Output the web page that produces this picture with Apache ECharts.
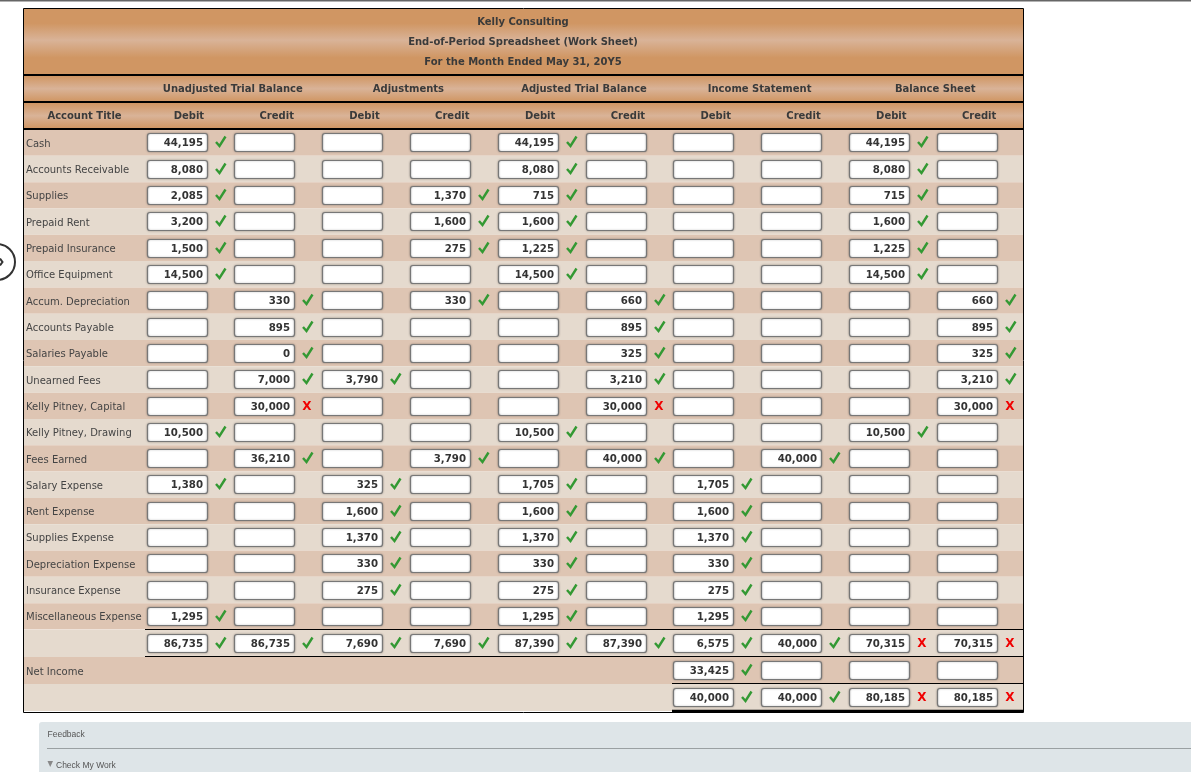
<!DOCTYPE html>
<html>
<head>
<meta charset="utf-8">
<title>Work Sheet</title>
<script src="https://cdn.jsdelivr.net/npm/echarts@6/dist/echarts.min.js"></script>
<style>
  html, body { margin: 0; padding: 0; background: #fff; }
  #chart { width: 1191px; height: 772px; }
</style>
</head>
<body>
<div id="chart"></div>
<script>
const titleLines = ['Kelly Consulting', 'End-of-Period Spreadsheet (Work Sheet)', 'For the Month Ended May 31, 20Y5'];
const groups = ['Unadjusted Trial Balance', 'Adjustments', 'Adjusted Trial Balance', 'Income Statement', 'Balance Sheet'];
const columns = ['Debit', 'Credit', 'Debit', 'Credit', 'Debit', 'Credit', 'Debit', 'Credit', 'Debit', 'Credit'];
const accounts = ['Cash', 'Accounts Receivable', 'Supplies', 'Prepaid Rent', 'Prepaid Insurance', 'Office Equipment',
  'Accum. Depreciation', 'Accounts Payable', 'Salaries Payable', 'Unearned Fees', 'Kelly Pitney, Capital',
  'Kelly Pitney, Drawing', 'Fees Earned', 'Salary Expense', 'Rent Expense', 'Supplies Expense',
  'Depreciation Expense', 'Insurance Expense', 'Miscellaneous Expense'];
const footerRows = ['', 'Net Income', ''];

// null = empty input box. Last two entries of each: Net Income row and final total row, x = no box at all
const x = undefined;
const utbDebit  = [44195, 8080, 2085, 3200, 1500, 14500, null, null, null, null, null, 10500, null, 1380, null, null, null, null, 1295, 86735, x, x];
const utbCredit = [null, null, null, null, null, null, 330, 895, 0, 7000, 30000, null, 36210, null, null, null, null, null, null, 86735, x, x];
const adjDebit  = [null, null, null, null, null, null, null, null, null, 3790, null, null, null, 325, 1600, 1370, 330, 275, null, 7690, x, x];
const adjCredit = [null, null, 1370, 1600, 275, null, 330, null, null, null, null, null, 3790, null, null, null, null, null, null, 7690, x, x];
const atbDebit  = [44195, 8080, 715, 1600, 1225, 14500, null, null, null, null, null, 10500, null, 1705, 1600, 1370, 330, 275, 1295, 87390, x, x];
const atbCredit = [null, null, null, null, null, null, 660, 895, 325, 3210, 30000, null, 40000, null, null, null, null, null, null, 87390, x, x];
const isDebit   = [null, null, null, null, null, null, null, null, null, null, null, null, null, 1705, 1600, 1370, 330, 275, 1295, 6575, 33425, 40000];
const isCredit  = [null, null, null, null, null, null, null, null, null, null, null, null, 40000, null, null, null, null, null, null, 40000, null, 40000];
const bsDebit   = [44195, 8080, 715, 1600, 1225, 14500, null, null, null, null, null, 10500, null, null, null, null, null, null, null, 70315, null, 80185];
const bsCredit  = [null, null, null, null, null, null, 660, 895, 325, 3210, 30000, null, null, null, null, null, null, null, null, 70315, null, 80185];
const allColumns = [utbDebit, utbCredit, adjDebit, adjCredit, atbDebit, atbCredit, isDebit, isCredit, bsDebit, bsCredit];

// [row, column] of the answers marked wrong
const wrongCells = [[10, 1], [10, 5], [10, 9], [19, 8], [19, 9], [21, 8], [21, 9]];

const FONT = '"DejaVu Sans", Verdana, sans-serif';
const TEXT = '#3a3a3a';
const ORANGE = '#d09663';
const PEAK = '#d9b398';

const isWrong = (r, c) => wrongCells.some(w => w[0] === r && w[1] === c);

// one input box plus its mark, for each cell of a grid
const cellData = (from, to) => {
  const out = [];
  for (let r = from; r < to; r++) {
    allColumns.forEach((col, c) => {
      if (col[r] !== undefined) out.push([c, r - from, col[r], isWrong(r, c) ? 1 : 0]);
    });
  }
  return out;
};

const renderCell = (params, api) => {
  const c = api.value(0);
  const pt = api.coord([c, api.value(1)]);
  const band = api.size([1, 1]);
  // snap to the pixel grid so the box edges stay crisp
  const left = Math.floor(pt[0] - band[0] / 2 + 2) + 0.5;
  const cy = Math.round(pt[1] - 0.3);
  const raw = api.value(2);
  const hasValue = Number.isFinite(raw);
  const children = [{
    type: 'rect',
    shape: { x: left, y: cy - 8.5, width: 60, height: 18, r: 2.5 },
    style: { fill: '#fff', stroke: '#777', lineWidth: 1.2, shadowBlur: 2, shadowColor: 'rgba(0,0,0,0.3)' }
  }];
  if (hasValue) {
    children.push({
      type: 'text',
      style: {
        x: left + 55.5, y: cy + 1, text: raw.toLocaleString('en-US'), align: 'right', verticalAlign: 'middle',
        font: 'bold 10.2px ' + FONT, fill: '#333'
      }
    });
    if (api.value(3) === 1) {
      children.push({
        type: 'text',
        style: {
          x: left + 72.5, y: cy + 0.5, text: 'X', align: 'center', verticalAlign: 'middle',
          font: 'bold 12px ' + FONT, fill: '#f00000'
        }
      });
    } else {
      children.push({
        type: 'polyline',
        shape: { points: [[left + 68.5, cy], [left + 72, cy + 4], [left + 78, cy - 5.5]] },
        style: { fill: null, stroke: '#339933', lineWidth: 2.4 }
      });
    }
  }
  return { type: 'group', children };
};

// zebra rows, running over the account title column too
const renderBand = (params, api) => {
  const r = api.value(0);
  const pt = api.coord([0, r]);
  const band = api.size([1, 1]);
  const gridLeft = pt[0] - band[0] / 2;
  return {
    type: 'rect',
    shape: { x: gridLeft - 121, y: pt[1] - band[1] / 2, width: 121 + band[0] * columns.length, height: band[1] },
    style: { fill: api.value(1) === 0 ? '#dec5b3' : '#e5dace' }
  };
};

const sheen = (stops) => new echarts.graphic.LinearGradient(0, 0, 0, 1, stops);
const sheenTitle = [{ offset: 0, color: ORANGE }, { offset: 0.22, color: ORANGE }, { offset: 0.48, color: PEAK }, { offset: 0.75, color: ORANGE }, { offset: 1, color: ORANGE }];
const sheenRow = [{ offset: 0, color: ORANGE }, { offset: 0.5, color: PEAK }, { offset: 1, color: ORANGE }];

const SHEET_LEFT = 24, SHEET_RIGHT = 1023, GRID_LEFT = 145, COL_W = 87.8;

const headerText = (text, cx, y) => ({
  type: 'text', z: 3,
  style: { x: cx, y, text, align: 'center', verticalAlign: 'middle', font: 'bold 10px ' + FONT, fill: TEXT }
});
const headerRect = (y, h, stops) => ({
  type: 'rect', z: 1,
  shape: { x: SHEET_LEFT, y, width: SHEET_RIGHT - SHEET_LEFT, height: h },
  style: { fill: sheen(stops) }
});
const rule = (x1, x2, y, w) => ({
  type: 'line', z: 6,
  shape: { x1, y1: y, x2, y2: y },
  style: { stroke: '#000', lineWidth: w }
});

const graphics = [
  // page furniture around the sheet
  { type: 'rect', z: 0, shape: { x: 0, y: 0, width: 1191, height: 1.5 }, style: { fill: '#666' } },
  { type: 'circle', z: 0, shape: { cx: -3, cy: 262, r: 18 }, style: { fill: '#fff', stroke: '#333', lineWidth: 2 } },
  { type: 'polyline', z: 0, shape: { points: [[0, 258.5], [2.5, 262], [0, 265.5]] }, style: { fill: null, stroke: '#333', lineWidth: 2 } },
  { type: 'rect', z: 0, shape: { x: 39, y: 722, width: 1160, height: 60, r: 3 }, style: { fill: '#dee5e8' } },
  { type: 'line', z: 1, shape: { x1: 47, y1: 748.5, x2: 1191, y2: 748.5 }, style: { stroke: '#9aa0a2', lineWidth: 1 } },
  { type: 'text', z: 1, style: { x: 47.5, y: 734.5, text: 'Feedback', verticalAlign: 'middle', font: '8.5px "Liberation Sans", Arial, sans-serif', fill: '#555' } },
  { type: 'polygon', z: 1, shape: { points: [[47.5, 761], [53, 761], [50.2, 767]] }, style: { fill: '#888' } },
  { type: 'text', z: 1, style: { x: 56, y: 765.5, text: 'Check My Work', verticalAlign: 'middle', font: '8.5px "Liberation Sans", Arial, sans-serif', fill: '#555' } },

  // header strips
  headerRect(9, 65, sheenTitle),
  headerRect(76, 25.5, sheenRow),
  headerRect(103, 25.5, sheenRow),
  ...titleLines.map((t, i) => headerText(t, 523, 22 + i * 20)),
  ...groups.map((g, i) => headerText(g, GRID_LEFT + COL_W * (2 * i + 1), 89)),
  headerText('Account Title', 84.5, 116),

  // rules
  rule(SHEET_LEFT, SHEET_RIGHT, 75, 2),
  rule(SHEET_LEFT, SHEET_RIGHT, 102, 2),
  rule(SHEET_LEFT, SHEET_RIGHT, 129, 2),
  rule(GRID_LEFT, SHEET_RIGHT, 629.5, 1),
  rule(GRID_LEFT, SHEET_RIGHT, 656.5, 1),
  rule(672, SHEET_RIGHT, 683.5, 1),
  rule(672, SHEET_RIGHT, 711, 2.5),
  { type: 'rect', z: 7, shape: { x: SHEET_LEFT - 0.5, y: 8.5, width: SHEET_RIGHT - SHEET_LEFT + 1, height: 704 }, style: { fill: null, stroke: '#000', lineWidth: 1 } }
];

// top align with a short line height nudges the labels down a little from the row centre
const yLabels = {
  align: 'left', margin: 119, fontFamily: FONT, fontSize: 10, color: '#444', verticalAlign: 'top', lineHeight: 3
};

const chart = echarts.init(document.getElementById('chart'), null, { renderer: 'canvas' });

const option = {
  animation: false,
  backgroundColor: '#fff',
  graphic: { elements: graphics },
  grid: [
    { left: GRID_LEFT, width: COL_W * 10, top: 129.5, height: 500 },
    { left: GRID_LEFT, width: COL_W * 10, top: 630, height: 81 }
  ],
  xAxis: [
    {
      gridIndex: 0, type: 'category', position: 'top', data: columns, z: 4,
      axisLine: { show: false }, axisTick: { show: false }, splitLine: { show: false },
      axisLabel: { interval: 0, margin: 8, fontFamily: FONT, fontSize: 10, fontWeight: 'bold', color: TEXT }
    },
    { gridIndex: 1, type: 'category', data: columns, show: false }
  ],
  yAxis: [
    {
      gridIndex: 0, type: 'category', inverse: true, data: accounts, z: 4,
      axisLine: { show: false }, axisTick: { show: false }, splitLine: { show: false },
      axisLabel: { interval: 0, ...yLabels }
    },
    {
      gridIndex: 1, type: 'category', inverse: true, data: footerRows, z: 4,
      axisLine: { show: false }, axisTick: { show: false }, splitLine: { show: false },
      axisLabel: { interval: 0, ...yLabels }
    }
  ],
  series: [
    {
      type: 'custom', xAxisIndex: 0, yAxisIndex: 0, z: 1, silent: true, renderItem: renderBand,
      data: accounts.map((a, i) => [i, i % 2]), encode: { x: -1, y: 0 }
    },
    {
      type: 'custom', xAxisIndex: 1, yAxisIndex: 1, z: 1, silent: true, renderItem: renderBand,
      data: footerRows.map((a, i) => [i, (i + accounts.length) % 2]), encode: { x: -1, y: 0 }
    },
    {
      type: 'custom', xAxisIndex: 0, yAxisIndex: 0, z: 5, silent: true, renderItem: renderCell,
      data: cellData(0, accounts.length), encode: { x: 0, y: 1 }
    },
    {
      type: 'custom', xAxisIndex: 1, yAxisIndex: 1, z: 5, silent: true, renderItem: renderCell,
      data: cellData(accounts.length, accounts.length + footerRows.length), encode: { x: 0, y: 1 }
    }
  ]
};

chart.setOption(option, true);
</script>
</body>
</html>
